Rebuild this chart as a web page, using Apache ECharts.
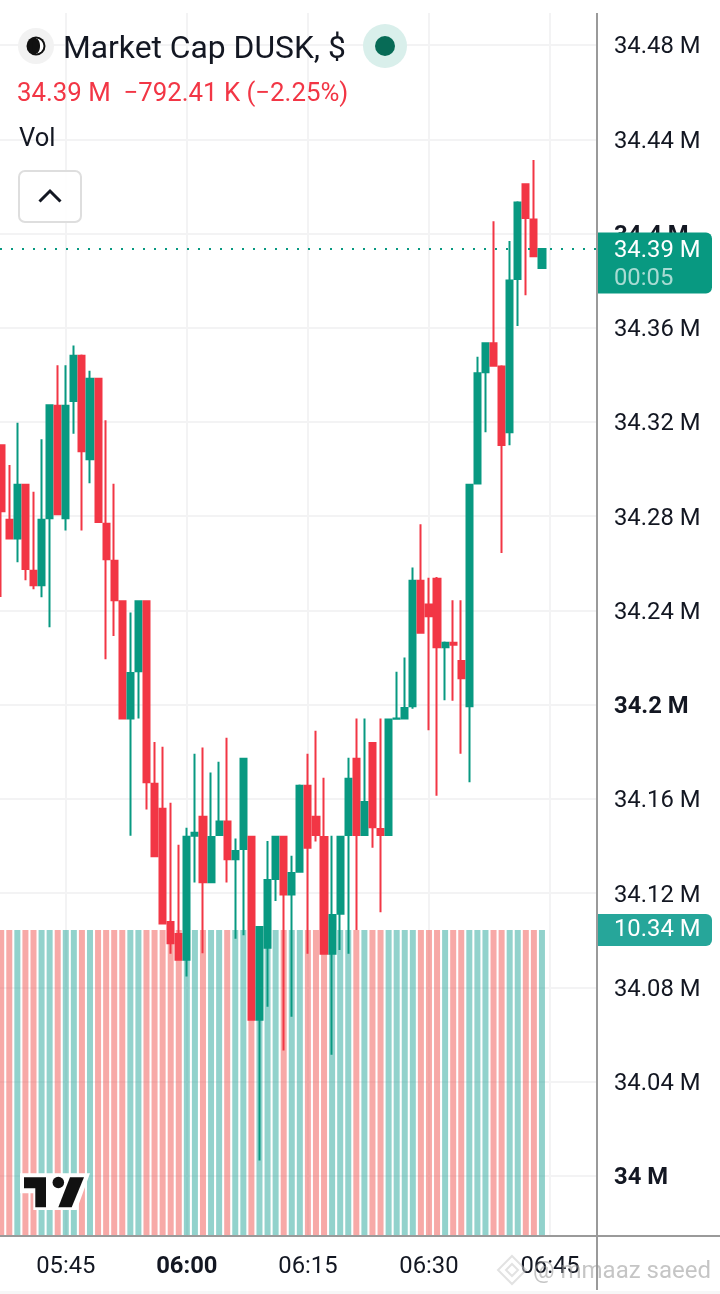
<!DOCTYPE html>
<html>
<head>
<meta charset="utf-8">
<style>html,body{margin:0;padding:0;background:#fff}#c{width:720px;height:1294px}</style>
<script src="https://cdn.jsdelivr.net/npm/echarts@6/dist/echarts.min.js"></script>
</head>
<body>
<div id="c"></div>
<script>
var times = ["05:37","05:38","05:39","05:40","05:41","05:42","05:43","05:44","05:45","05:46","05:47","05:48","05:49","05:50","05:51","05:52","05:53","05:54","05:55","05:56","05:57","05:58","05:59","06:00","06:01","06:02","06:03","06:04","06:05","06:06","06:07","06:08","06:09","06:10","06:11","06:12","06:13","06:14","06:15","06:16","06:17","06:18","06:19","06:20","06:21","06:22","06:23","06:24","06:25","06:26","06:27","06:28","06:29","06:30","06:31","06:32","06:33","06:34","06:35","06:36","06:37","06:38","06:39","06:40","06:41","06:42","06:43","06:44"];
var open = [34.3101,34.2785,34.2706,34.2934,34.2569,34.2507,34.2791,34.3269,34.2791,34.3289,34.3481,34.3042,34.3384,34.2768,34.2611,34.2439,34.1942,34.2142,34.2439,34.1665,34.1558,34.1078,34.1027,34.0918,34.1444,34.1525,34.1246,34.1447,34.1504,34.1344,34.1388,34.1440,34.0663,34.0969,34.1260,34.1440,34.1194,34.1291,34.1656,34.1525,34.1439,34.0943,34.1113,34.1447,34.1771,34.1447,34.1838,34.1473,34.1447,34.1940,34.1942,34.1993,34.2526,34.2425,34.2535,34.2244,34.2263,34.2186,34.1993,34.2939,34.3411,34.3534,34.3436,34.3156,34.3807,34.4209,34.4060,34.3854];
var close = [34.2821,34.2706,34.2934,34.2576,34.2507,34.2785,34.3271,34.2808,34.3269,34.3481,34.3076,34.3384,34.2776,34.2617,34.2443,34.1942,34.2135,34.2439,34.1671,34.1357,34.1071,34.0988,34.0918,34.1440,34.1457,34.1246,34.1439,34.1504,34.1344,34.1379,34.1771,34.0663,34.1057,34.1256,34.1440,34.1194,34.1286,34.1656,34.1393,34.1447,34.0943,34.1108,34.1440,34.1686,34.1447,34.1587,34.1480,34.1447,34.1937,34.1942,34.1986,34.2526,34.2306,34.2375,34.2244,34.2263,34.2255,34.2112,34.2934,34.3407,34.3534,34.3439,34.3102,34.3801,34.4132,34.4066,34.3903,34.3934];
var high = [34.3105,34.3017,34.3197,34.2938,34.2904,34.3127,34.3275,34.3441,34.3441,34.3525,34.3486,34.3418,34.3388,34.3207,34.2938,34.2443,34.2391,34.2443,34.2443,34.1842,34.1822,34.1584,34.1406,34.1478,34.1792,34.1818,34.1712,34.1758,34.1860,34.1432,34.1775,34.1444,34.1061,34.1422,34.1444,34.1444,34.1359,34.1661,34.1792,34.1890,34.1690,34.1444,34.1444,34.1775,34.1941,34.1941,34.1842,34.1941,34.1941,34.2140,34.2200,34.2582,34.2766,34.2539,34.2542,34.2268,34.2443,34.2443,34.2938,34.3477,34.3538,34.4052,34.3441,34.3968,34.4137,34.4213,34.4312,34.3938];
var low = [34.2457,34.2702,34.2605,34.2528,34.2490,34.2456,34.2329,34.2804,34.2740,34.3150,34.2740,34.2940,34.2771,34.2193,34.2292,34.1938,34.1444,34.1941,34.1555,34.1353,34.1067,34.0943,34.0914,34.0846,34.1245,34.0945,34.1242,34.1443,34.1245,34.1007,34.1022,34.0659,34.0065,34.0718,34.1167,34.0532,34.0676,34.1287,34.0943,34.1419,34.0939,34.0514,34.0959,34.0943,34.1044,34.1443,34.1393,34.1119,34.1443,34.1938,34.1938,34.1983,34.2302,34.1892,34.1614,34.2019,34.2017,34.1792,34.1671,34.2935,34.3156,34.3435,34.2644,34.3101,34.3607,34.3738,34.3899,34.3849];
var volumeLevel = 10.34;
var priceTicks = [34,34.04,34.08,34.12,34.16,34.2,34.24,34.28,34.32,34.36,34.4,34.44,34.48];
var priceTickLabels = ["34 M","34.04 M","34.08 M","34.12 M","34.16 M","34.2 M","34.24 M","34.28 M","34.32 M","34.36 M","34.4 M","34.44 M","34.48 M"];
var boldPrices = ["34 M","34.2 M","34.4 M"];
var timeTickLabels = ["05:45","06:00","06:15","06:30","06:45"];
var lastPrice = 34.3934;
var UP = '#089981', DOWN = '#F23645';

function toMin(s){ var p = s.split(':'); return +p[0]*60 + +p[1]; }
var timeTicks = timeTickLabels.map(toMin);
var F = 'Roboto, sans-serif';
var TICK = 23.8;

var chart = echarts.init(document.getElementById('c'), null, {renderer:'canvas', width:720, height:1294});
var candleData = times.map(function(t,i){ return [toMin(t), open[i], close[i], low[i], high[i]]; });
var volData = times.map(function(t,i){
  return {value:[toMin(t), volumeLevel], itemStyle:{color: close[i] >= open[i] ? 'rgba(38,166,154,0.5)' : 'rgba(239,83,80,0.5)'}};
});
var gridMarks = priceTicks.map(function(v){ return {yAxis:v}; }).concat(timeTicks.map(function(v){ return {xAxis:v}; }));

chart.setOption({
  animation:false,
  backgroundColor:'#fff',
  grid:{left:0, right:123, top:13, bottom:58, containLabel:false},
  xAxis:{
    type:'value', min:336.85, max:410.82,
    axisLine:{show:false}, axisTick:{show:false}, splitLine:{show:false},
    axisLabel:{
      customValues:timeTicks, margin:19, color:'#131722', fontFamily:F, fontSize:TICK,
      formatter:function(v){ var l = timeTickLabels[timeTicks.indexOf(v)]; return l==='06:00' ? '{b|'+l+'}' : l; },
      rich:{b:{fontFamily:F, fontSize:TICK, fontWeight:'bold', color:'#131722'}}
    }
  },
  yAxis:[{
    type:'value', position:'right', min:33.9745, max:34.4936, scale:true,
    axisLine:{show:false}, axisTick:{show:false}, splitLine:{show:false},
    axisLabel:{
      customValues:priceTicks, margin:17, color:'#131722', fontFamily:F, fontSize:TICK, align:'left', padding:[5,0,0,0],
      formatter:function(v){ var l = priceTickLabels[priceTicks.indexOf(v)]; return boldPrices.indexOf(l)>=0 ? '{b|'+l+'}' : l; },
      rich:{b:{fontFamily:F, fontSize:TICK, fontWeight:'bold', color:'#131722'}}
    }
  },{
    type:'value', min:0, max:41.33, show:false, splitLine:{show:false}
  }],
  series:[{
    type:'line', name:'grid', xAxisIndex:0, yAxisIndex:0, data:[], z:0, silent:true,
    markLine:{
      silent:true, symbol:'none', z:0, precision:4, animation:false,
      lineStyle:{color:'#f3f3f4', width:2, type:'solid'}, label:{show:false},
      data:gridMarks
    }
  },{
    type:'bar', name:'Vol', xAxisIndex:0, yAxisIndex:1, barWidth:6, z:1, silent:true,
    data:volData,
    markLine:{
      silent:true, symbol:'none', z:20, precision:4, lineStyle:{color:'transparent', width:0},
      data:[{yAxis:volumeLevel}],
      label:{
        show:true, position:'end', distance:1, formatter:'10.34 M', color:'#fff', fontFamily:F, fontSize:TICK,
        backgroundColor:'#26A69A', borderRadius:[0,6,6,0], width:98, height:32, lineHeight:32, padding:[0,0,0,16], align:'left', verticalAlign:'middle'
      }
    }
  },{
    type:'candlestick', name:'Market Cap DUSK', xAxisIndex:0, yAxisIndex:0, barWidth:6.6, z:3,
    encode:{x:0,y:[1,2,3,4]},
    itemStyle:{color:UP, color0:DOWN, borderColor:UP, borderColor0:DOWN, borderColorDoji:UP, borderWidth:2},
    data:candleData,
    markLine:{
      silent:true, symbol:'none', z:20, precision:4,
      lineStyle:{color:UP, width:2, type:[2,9]},
      data:[{yAxis:lastPrice}],
      label:{
        show:true, position:'end', distance:1, offset:[0,14],
        formatter:'{a|34.39 M}\n{c|00:05}',
        backgroundColor:UP, borderRadius:[0,6,6,0], width:98, height:57, padding:[4,0,0,16], align:'left', verticalAlign:'middle',
        rich:{a:{color:'#fff', fontFamily:F, fontSize:TICK, lineHeight:28},
              c:{color:'rgba(255,255,255,0.65)', fontFamily:F, fontSize:TICK, lineHeight:28}}
      }
    }
  }],
  graphic:[
    {type:'line', z:50, shape:{x1:597,y1:13,x2:597,y2:1290}, style:{stroke:'#9a9a9a', lineWidth:2}},
    {type:'line', z:50, shape:{x1:0,y1:1236,x2:720,y2:1236}, style:{stroke:'#9a9a9a', lineWidth:2}},
    {type:'rect', z:50, shape:{x:0,y:1291,width:720,height:3}, style:{fill:'#f7f7f7'}},
    // header
    {type:'circle', z:60, shape:{cx:36,cy:46,r:18}, style:{fill:'#f2f2f2'}},
    {type:'circle', z:61, shape:{cx:36,cy:46,r:9.5}, style:{fill:'#111'}},
    {type:'sector', z:62, shape:{cx:36,cy:46,r:7.5,r0:0,startAngle:-Math.PI/2,endAngle:Math.PI/2}, style:{fill:'#fff'}},
    {type:'ellipse', z:63, shape:{cx:36,cy:46,rx:4,ry:7.5}, style:{fill:'#111'}},
    {type:'text', z:60, style:{x:63,y:50,text:'Market Cap DUSK, $',fill:'#131722',font:'31.8px Roboto, sans-serif',textVerticalAlign:'middle'}},
    {type:'circle', z:60, shape:{cx:385,cy:46,r:22}, style:{fill:'#d9efeb'}},
    {type:'circle', z:61, shape:{cx:385,cy:46,r:10}, style:{fill:'#076B56'}},
    {type:'text', z:60, style:{x:17,y:95,text:'34.39 M  \u2212792.41 K (\u22122.25%)',fill:'#F23645',font:'25.8px Roboto, sans-serif',textVerticalAlign:'middle'}},
    {type:'text', z:60, style:{x:19,y:140,text:'Vol',fill:'#131722',font:'25.5px Roboto, sans-serif',textVerticalAlign:'middle'}},
    {type:'rect', z:60, shape:{x:19,y:171,width:62,height:51,r:6}, style:{fill:'rgba(255,255,255,0.9)',stroke:'#dedede',lineWidth:2}},
    {type:'polyline', z:61, shape:{points:[[39.5,201.5],[50,191],[60.5,201.5]]}, style:{fill:'none',stroke:'#131722',lineWidth:3}},
    // TradingView mark
    {type:'polygon', z:10, shape:{points:[[20,1173.3],[90,1173.3],[76.7,1210],[33.3,1210],[33.3,1193.3],[20,1193.3]]}, style:{fill:'#fff'}},
    {type:'polygon', z:11, shape:{points:[[24,1177.3],[46,1177.3],[46,1207.3],[35.3,1207.3],[35.3,1188.3],[24,1188.3]]}, style:{fill:'#111'}},
    {type:'circle', z:11, shape:{cx:58.3,cy:1182.5,r:5.8}, style:{fill:'#111'}},
    {type:'polygon', z:11, shape:{points:[[70,1177.3],[84,1177.3],[71.7,1207.3],[58.3,1207.3]]}, style:{fill:'#111'}},
    // watermark
    {type:'polygon', z:70, shape:{points:[[512,1256],[526,1270],[512,1284],[498,1270]]}, style:{fill:'rgba(255,255,255,0.35)',stroke:'rgba(190,190,190,0.45)',lineWidth:2}},
    {type:'polygon', z:71, shape:{points:[[512,1264],[518,1270],[512,1276],[506,1270]]}, style:{fill:'none',stroke:'rgba(190,190,190,0.45)',lineWidth:2}},
    {type:'text', z:70, style:{x:533,y:1272,text:'@ mmaaz saeed',fill:'rgba(150,150,150,0.55)',font:'24px Roboto, sans-serif',textVerticalAlign:'middle'}}
  ]
});
</script>
</body>
</html>
